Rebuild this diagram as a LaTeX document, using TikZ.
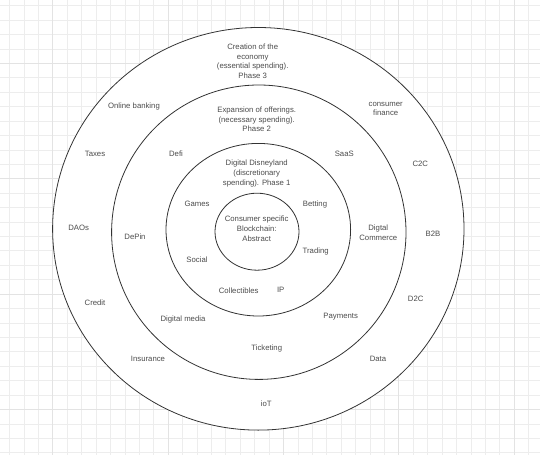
\documentclass[tikz,border=0pt]{standalone}
\usepackage{fontspec}
\setmainfont{Liberation Sans}
\begin{document}
\begin{tikzpicture}[x=1pt,y=-1pt,
  ring/.style={draw=black!80, line width=0.8pt, fill=white},
  lbl/.style={text=black!70, font=\fontsize{7.75}{9.6}\selectfont, align=center, inner sep=0pt},
  minorgrid/.style={draw=black!7, line width=0.6pt},
  majorgrid/.style={draw=black!11, line width=0.9pt}]
  \useasboundingbox (0,0) rectangle (540,455);
  \fill[white] (0,0) rectangle (540,455);

  % background grid
  \foreach \i in {-3,...,33}
    \draw[minorgrid] ({52.7+\i*14.42},0) -- ({52.7+\i*14.42},455);
  \foreach \i in {-4,...,27}
    \draw[minorgrid] (0,{63.3+\i*14.42}) -- (540,{63.3+\i*14.42});
  \foreach \i in {0,...,4}
    \draw[majorgrid] ({52.7+\i*115.36},0) -- ({52.7+\i*115.36},455);
  \foreach \i in {0,...,3}
    \draw[majorgrid] (0,{63.3+\i*115.36}) -- (540,{63.3+\i*115.36});

  % centres of the rings
  \coordinate (P3) at (258.3,228.8);
  \coordinate (P2) at (258.8,232.2);
  \coordinate (P1) at (258.3,229.7);
  \coordinate (core) at (257,231.7);

  \draw[ring] (P3) ellipse [x radius=205.7, y radius=201.3];
  \draw[ring] (P2) ellipse [x radius=147.2, y radius=147.2];
  \draw[ring] (P1) ellipse [x radius=92.3, y radius=86.3];
  \draw[ring] (core) ellipse [x radius=42, y radius=38.5];

  % phase 3
  \node[lbl] (phase3) at (252.7,61.2) {Creation of the\\economy\\(essential spending).\\Phase 3};
  \node[lbl] (banking) at (134,106.3) {Online banking};
  \node[lbl] (finance) at (385.7,109) {consumer\\finance};
  \node[lbl] (taxes) at (95,153.7) {Taxes};
  \node[lbl] (ctoc) at (420.3,164) {C2C};
  \node[lbl] (daos) at (78.7,228.3) {DAOs};
  \node[lbl] (btob) at (433,233.7) {B2B};
  \node[lbl] (credit) at (95,302.7) {Credit};
  \node[lbl] (dtoc) at (415.7,299) {D2C};
  \node[lbl] (insurance) at (148,359) {Insurance};
  \node[lbl] (data) at (378,359) {Data};
  \node[lbl] (iot) at (266.3,403.3) {ioT};

  % phase 2
  \node[lbl] (phase2) at (256.7,119.6) {Expansion of offerings.\\(necessary spending).\\Phase 2};
  \node[lbl] (defi) at (176,153.7) {Defi};
  \node[lbl] (saas) at (344.3,153.7) {SaaS};
  \node[lbl] (depin) at (135,236.7) {DePin};
  \node[lbl] (commerce) at (378.3,233) {Digtal\\Commerce};
  \node[lbl] (media) at (183,319) {Digital media};
  \node[lbl] (payments) at (340.7,316.7) {Payments};
  \node[lbl] (ticketing) at (266.7,348) {Ticketing};

  % phase 1
  \node[lbl] (phase1) at (256.7,173.4) {Digital Disneyland\\(discretionary\\spending). Phase 1};
  \node[lbl] (games) at (197,204) {Games};
  \node[lbl] (betting) at (315,204) {Betting};
  \node[lbl] (trading) at (315.7,251.3) {Trading};
  \node[lbl] (social) at (197,259.3) {Social};
  \node[lbl] (collectibles) at (238.7,290.3) {Collectibles};
  \node[lbl] (ip) at (280.7,290.3) {IP};

  % core
  \node[lbl] (chain) at (256.7,228.7) {Consumer specific\\Blockchain:\\Abstract};
\end{tikzpicture}
\end{document}
